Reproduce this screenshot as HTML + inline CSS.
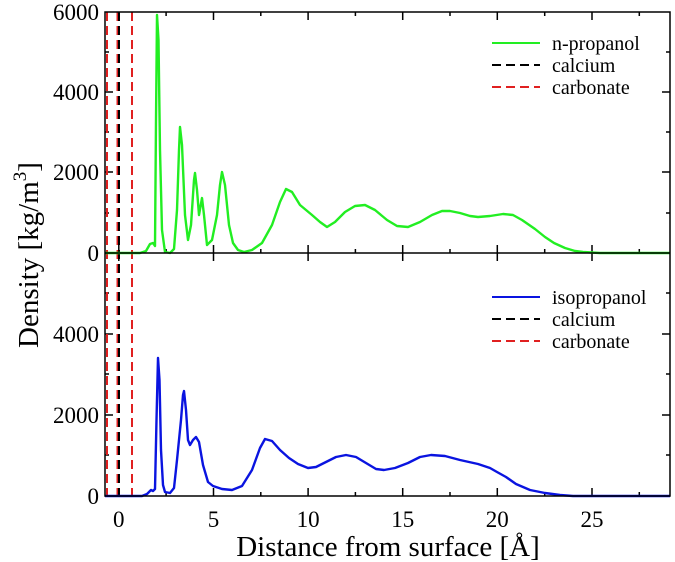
<!DOCTYPE html>
<html><head><meta charset="utf-8"><style>
html,body{margin:0;padding:0;background:#fff}
svg{display:block;font-family:"Liberation Serif",serif}
</style></head><body>
<svg width="675" height="562" viewBox="0 0 675 562" xmlns="http://www.w3.org/2000/svg">
<g stroke="#000" stroke-width="1.5">
<path d="M118.8,496v-8M213.5,496v-8M308.1,496v-8M402.7,496v-8M497.3,496v-8M592,496v-8
M166.1,496v-4M260.8,496v-4M355.4,496v-4M450,496v-4M544.7,496v-4M639.3,496v-4
M118.8,12v8M213.5,12v8M308.1,12v8M402.7,12v8M497.3,12v8M592,12v8
M166.1,12v4M260.8,12v4M355.4,12v4M450,12v4M544.7,12v4M639.3,12v4
M118.8,253v-8M213.5,253v-8M308.1,253v-8M402.7,253v-8M497.3,253v-8M592,253v-8
M166.1,253v-4M260.8,253v-4M355.4,253v-4M450,253v-4M544.7,253v-4M639.3,253v-4
M118.8,253v8M213.5,253v8M308.1,253v8M402.7,253v8M497.3,253v8M592,253v8
M105,92h8M105,172h8M105,52h4M105,132h4M105,213h4
M670,92h-8M670,172h-8M670,52h-4M670,132h-4M670,213h-4
M105,334h8M105,415h8M105,293h4M105,374h4M105,455h4
M670,334h-8M670,415h-8M670,293h-4M670,374h-4M670,455h-4"/>
</g>
<g fill="none" stroke-dasharray="9,5" stroke-width="2">
<path d="M107,12V496M132,12V496M117.5,12V496" stroke="#e02020"/>
<path d="M119,12V496" stroke="#000"/>
</g>
<polyline fill="none" stroke="#22ee22" stroke-width="2.4" stroke-linejoin="round" points="105,253 140,253 146,251 150,244 153,243 155,246 156,120 157,15 158.5,40 160,150 162,230 165,252 170,253 174,249 177,210 179,150 180,127 182,145 185,215 188,240 191,225 194,180 195,173 197,190 199,215 202,198 204,215 207,245 212,240 217,215 220,185 222,172 225,185 229,225 233,243 238,250 244,252 252,250 262,243 272,225 280,202 286,189 292,192 300,205 312,215 320,222 327,227 335,222 345,212 355,206 365,205 375,210 387,220 397,226 408,227 420,222 432,215 442,211 450,211 460,213 470,216 478,217 490,216 503,214 513,215 522,220 535,229 545,237 554,243 565,248 575,251 583,252 600,253 670,253"/>
<polyline fill="none" stroke="#0a14e0" stroke-width="2.4" stroke-linejoin="round" points="105,496 142,496 147,494 151,490 153,491 155,489 156.5,420 158,358 159.5,380 161,450 163,485 165,492 170,493 174,488 177,460 181,420 183,395 184,391 186,410 188,440 190,445 193,440 196,437 199,442 203,465 208,482 213,486 222,489 232,490 242,486 252,470 260,448 265,439 272,441 280,450 289,458 298,464 308,468 316,467 326,462 336,457 346,455 356,457 366,463 376,469 384,470 395,468 408,463 420,457 431,455 445,456 460,460 478,464 490,468 497,472 506,477 516,484 530,490 545,493 560,495 573,496 670,496"/>
<rect x="105" y="12" width="565" height="484" fill="none" stroke="#000" stroke-width="1.5"/>
<line x1="105" y1="253" x2="670" y2="253" stroke="#000" stroke-width="1.5"/>
<g font-size="23" text-anchor="end">
<text x="99" y="20">6000</text><text x="99" y="100">4000</text><text x="99" y="180">2000</text><text x="99" y="261">0</text>
<text x="99" y="342">4000</text><text x="99" y="423">2000</text><text x="99" y="504">0</text>
</g>
<g font-size="23" text-anchor="middle">
<text x="118.8" y="527">0</text><text x="213.5" y="527">5</text><text x="308.1" y="527">10</text><text x="402.7" y="527">15</text><text x="497.3" y="527">20</text><text x="592" y="527">25</text>
</g>
<text x="388" y="556" font-size="29" text-anchor="middle">Distance from surface [Å]</text>
<text transform="translate(38,255) rotate(-90)" font-size="29" text-anchor="middle">Density [kg/m<tspan font-size="19" dy="-12">3</tspan><tspan dy="12">]</tspan></text>
<g font-size="20">
<line x1="492" y1="43" x2="540" y2="43" stroke="#22ee22" stroke-width="2"/>
<text x="552" y="50">n-propanol</text>
<line x1="492" y1="65" x2="540" y2="65" stroke="#000" stroke-width="2" stroke-dasharray="9,5"/>
<text x="552" y="72">calcium</text>
<line x1="492" y1="87" x2="540" y2="87" stroke="#e02020" stroke-width="2" stroke-dasharray="9,5"/>
<text x="552" y="94">carbonate</text>
<line x1="492" y1="297" x2="540" y2="297" stroke="#0a14e0" stroke-width="2"/>
<text x="552" y="304">isopropanol</text>
<line x1="492" y1="319" x2="540" y2="319" stroke="#000" stroke-width="2" stroke-dasharray="9,5"/>
<text x="552" y="326">calcium</text>
<line x1="492" y1="341" x2="540" y2="341" stroke="#e02020" stroke-width="2" stroke-dasharray="9,5"/>
<text x="552" y="348">carbonate</text>
</g>
</svg>
</body></html>
